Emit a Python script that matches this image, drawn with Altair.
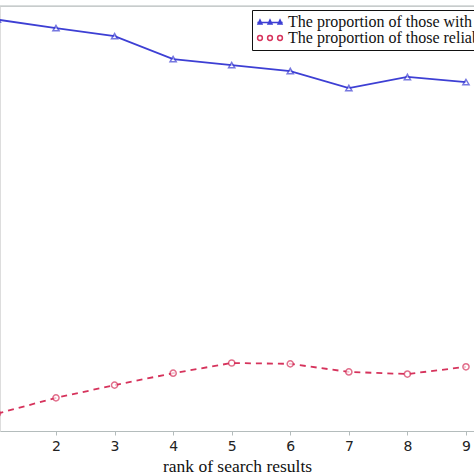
import altair as alt
import pandas as pd

ranks = [1, 2, 3, 4, 5, 6, 7, 8, 9]
with_vals = [0.968, 0.948, 0.929, 0.875, 0.861, 0.847, 0.807, 0.833, 0.821]
reliable_vals = [0.041, 0.078, 0.108, 0.136, 0.160, 0.158, 0.139, 0.134, 0.151]
series_names = ["The proportion of those with credibility labels",
                "The proportion of those reliable results"]
x_ticks = [2, 3, 4, 5, 6, 7, 8, 9]

blue = "#3d3fd4"
red = "#d6335c"

df = pd.DataFrame({
    "rank": ranks * 2,
    "value": with_vals + reliable_vals,
    "series": [series_names[0]] * len(ranks) + [series_names[1]] * len(ranks),
})

xs = alt.Scale(domain=[1.044, 9.137], nice=False, zero=False)
ys = alt.Scale(domain=[0, 1], nice=False, zero=False)

x_enc = alt.X("rank:Q", scale=xs,
              axis=alt.Axis(values=x_ticks, title="rank of search results", grid=False,
                            domainColor="#b4bcbc", tickColor="#b4bcbc", tickSize=4,
                            labelFont="DejaVu Sans", labelFontSize=14, labelColor="#222222",
                            labelPadding=4, titleFont="Liberation Serif", titleFontSize=17.5,
                            titleFontWeight="normal", titleColor="#111111", titlePadding=4))
y_enc = alt.Y("value:Q", scale=ys, axis=None)

base = alt.Chart(df)
s1 = base.transform_filter(alt.datum.series == series_names[0])
s2 = base.transform_filter(alt.datum.series == series_names[1])

line1 = s1.mark_line(color=blue, strokeWidth=1.8, clip=True).encode(x=x_enc, y=y_enc)
pts1 = s1.mark_point(shape="triangle-up", color=blue, fill="white", filled=False, size=38,
                     strokeWidth=1.5, clip=True).encode(x=x_enc, y=y_enc)
line2 = s2.mark_line(color=red, strokeWidth=1.8, strokeDash=[6, 5], clip=True).encode(x=x_enc, y=y_enc)
pts2 = s2.mark_point(shape="circle", color=red, fill="white", filled=False, size=38,
                     strokeWidth=1.5, clip=True).encode(x=x_enc, y=y_enc)

tri_path = ("M-2.1,0.1H2.1 "
            "M-2.0,0.35L-1.67,-0.35L-1.34,0.35Z "
            "M-0.33,0.35L0,-0.35L0.33,0.35Z "
            "M1.34,0.35L1.67,-0.35L2.0,0.35Z")
circ_path = ("M-2.07,0a0.4,0.4 0 1,0 0.8,0a0.4,0.4 0 1,0 -0.8,0 "
             "M-0.4,0a0.4,0.4 0 1,0 0.8,0a0.4,0.4 0 1,0 -0.8,0 "
             "M1.27,0a0.4,0.4 0 1,0 0.8,0a0.4,0.4 0 1,0 -0.8,0")

legend_layer = base.mark_point(opacity=0, filled=False, strokeWidth=1.5).encode(
    x=x_enc, y=y_enc,
    color=alt.Color("series:N", scale=alt.Scale(domain=series_names, range=[blue, red]),
                    legend=alt.Legend(title=None, orient="none", legendX=252, legendY=4,
                                      padding=4, strokeColor="#111111", fillColor="white",
                                      labelFont="Liberation Serif", labelFontSize=16,
                                      labelColor="#111111", labelLimit=600,
                                      symbolSize=144, symbolOffset=6, labelOffset=10,
                                      symbolOpacity=1, symbolStrokeWidth=1.5,
                                      rowPadding=0)),
    shape=alt.Shape("series:N", scale=alt.Scale(domain=series_names, range=[tri_path, circ_path])),
)

top_rule = alt.Chart(pd.DataFrame({"a": [0]})).mark_rule(color="#b4bcbc", strokeWidth=1.2).encode(
    x=alt.value(0), x2=alt.value(474), y=alt.value(0))

chart = alt.layer(top_rule, line1, line2, pts1, pts2, legend_layer).properties(
    width=474, height=425,
    autosize=alt.AutoSizeParams(type="none"),
    padding={"left": 0, "top": 6, "right": 0, "bottom": 43},
).configure_view(stroke=None).configure(background="white")

chart.save("out.html", embed_options={"renderer": "svg", "actions": False})
